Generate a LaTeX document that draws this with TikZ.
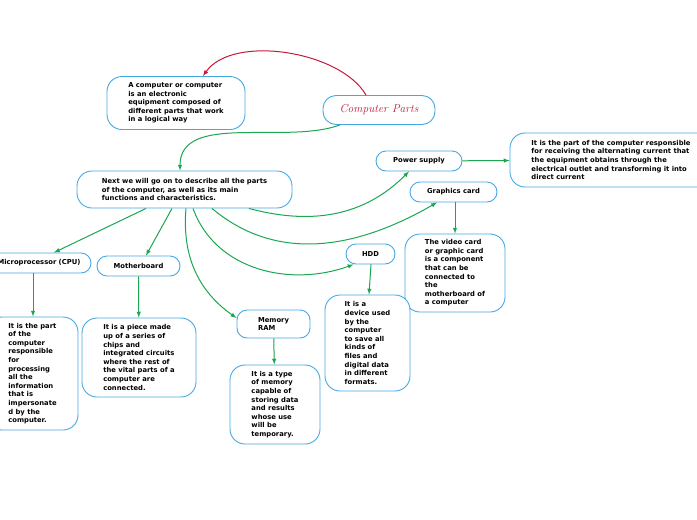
\documentclass[tikz,border=0pt]{standalone}
\usepackage{fontspec}
\setsansfont{DejaVu Sans}
\usetikzlibrary{arrows, positioning}
\definecolor{boxblue}{HTML}{45A8E3}
\definecolor{linkgreen}{HTML}{1BA650}
\definecolor{partsred}{HTML}{C8173A}

\begin{document}
\begin{tikzpicture}[x=1pt, y=-1pt]
\tikzstyle{topic}=[draw=boxblue, line width=0.9pt, fill=white, rounded corners=10pt, inner sep=0pt, align=left, font=\sffamily\bfseries\fontsize{6.8}{8.6}\selectfont]
\tikzstyle{info}=[topic, rounded corners=15pt]
\tikzstyle{connect}=[->, >=latex, line width=1pt, draw=linkgreen]
\useasboundingbox (0,0) rectangle (697,520);
\node[topic, minimum width=112pt, minimum height=29pt, rounded corners=13pt] (parts) at (379,110) {\rmfamily\itshape\mdseries\fontsize{11.5}{13}\selectfont\color{partsred}Computer Parts};
\node[info, minimum width=138pt, minimum height=53pt] (intro) at (176,103) {A computer or computer\\is an electronic\\equipment composed of\\different parts that work\\in a logical way};
\node[info, minimum width=215pt, minimum height=37pt] (next) at (184.5,189.5) {Next we will go on to describe all the parts\\of the computer, as well as its main\\functions and characteristics.};
\node[topic, minimum width=86pt, minimum height=20pt] (power) at (419,161) {Power supply};
\node[info, minimum width=202pt, minimum height=54pt] (powerinfo) at (611,160) {It is the part of the computer responsible\\for receiving the alternating current that\\the equipment obtains through the\\electrical outlet and transforming it into\\direct current};
\node[topic, minimum width=87pt, minimum height=20pt] (graphics) at (453.5,192) {Graphics card};
\node[info, minimum width=100pt, minimum height=78pt] (graphicsinfo) at (455,273) {The video card\\or graphic card\\is a component\\that can be\\connected to\\the\\motherboard of\\a computer};
\node[topic, minimum width=49pt, minimum height=20pt] (hdd) at (370.5,254) {HDD};
\node[info, minimum width=85pt, minimum height=96pt] (hddinfo) at (367.5,343) {It is a\\device used\\by the\\computer\\to save all\\kinds of\\files and\\digital data\\in different\\formats.};
\node[topic, minimum width=104pt, minimum height=20pt] (cpu) at (39,263) {Microprocessor (CPU)};
\node[info, minimum width=91pt, minimum height=113pt] (cpuinfo) at (32.5,373.5) {It is the part\\of the\\computer\\responsible\\for\\processing\\all the\\information\\that is\\impersonate\\d by the\\computer.};
\node[topic, minimum width=83pt, minimum height=20pt] (board) at (138.5,266) {Motherboard};
\node[info, minimum width=114pt, minimum height=79pt] (boardinfo) at (139,357.5) {It is a piece made\\up of a series of\\chips and\\integrated circuits\\where the rest of\\the vital parts of a\\computer are\\connected.};
\node[topic, minimum width=73pt, minimum height=28pt] (ram) at (273.5,324) {Memory\\RAM};
\node[info, minimum width=90pt, minimum height=79pt] (raminfo) at (275,404.5) {It is a type\\of memory\\capable of\\storing data\\and results\\whose use\\will be\\temporary.};
\path ([xshift=-13pt]parts.north) edge [connect, draw=partsred, out=120, in=55, looseness=0.8] ([xshift=27pt]intro.north);
\path ([xshift=-39pt]parts.south) edge [connect, out=200, in=90, looseness=0.9] ([xshift=-4.5pt]next.north);
\path ([xshift=-38.5pt]next.south) edge [connect] ([xshift=15pt]cpu.north);
\path ([xshift=-12.5pt]next.south) edge [connect] ([xshift=7.5pt]board.north);
\path ([xshift=1.5pt]next.south) edge [connect, out=-95, in=145] ([yshift=6pt]ram.west);
\path ([xshift=8.5pt]next.south) edge [connect, out=-70, in=200] ([xshift=-17pt]hdd.south);
\path ([xshift=27.5pt]next.south) edge [connect, out=-40, in=210] ([xshift=-16.5pt]graphics.south);
\path ([xshift=64.5pt]next.south) edge [connect, out=-15, in=225] ([xshift=-10pt]power.south);
\path (power) edge [connect] (powerinfo);
\path ([xshift=1.5pt]graphics.south) edge [connect] ([xshift=0pt]graphicsinfo.north);
\path ([xshift=0.5pt]hdd.south) edge [connect] ([xshift=1.5pt]hddinfo.north);
\path ([xshift=-6pt]cpu.south) edge [connect] ([xshift=0.5pt]cpuinfo.north);
\path (board) edge [connect] (boardinfo);
\path (ram) edge [connect] (raminfo);
\end{tikzpicture}
\end{document}
